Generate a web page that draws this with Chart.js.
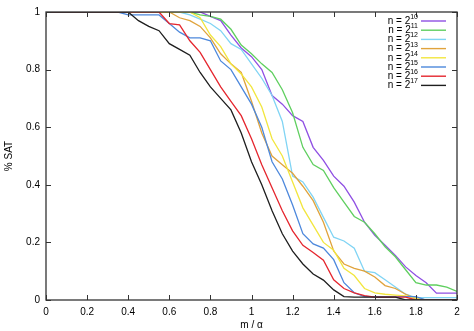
<!DOCTYPE html>
<html>
<head>
<meta charset="utf-8">
<script src="https://cdn.jsdelivr.net/npm/chart.js@4"></script>
<style>
  html, body { margin: 0; padding: 0; background: #fff; }
  #wrap { width: 474px; height: 331px; }
</style>
</head>
<body>
<div id="wrap"><canvas id="sat"></canvas></div>
<script>
// m / alpha sample points
const ratios = [0, 0.05, 0.1, 0.15, 0.2, 0.25, 0.3, 0.35, 0.4, 0.45,
  0.5, 0.55, 0.6, 0.65, 0.7, 0.75, 0.8, 0.85, 0.9, 0.95,
  1, 1.05, 1.1, 1.15, 1.2, 1.25, 1.3, 1.35, 1.4, 1.45,
  1.5, 1.55, 1.6, 1.65, 1.7, 1.75, 1.8, 1.85, 1.9, 1.95, 2];

// fraction satisfiable for each problem size n = 2^k
const sat10 = [1, 1, 1, 1, 1, 1, 1, 1, 1, 1, 1, 1, 1, 1, 1, 1,
  0.985, 0.97, 0.92, 0.875, 0.845, 0.80, 0.71, 0.68, 0.64, 0.62, 0.53, 0.485, 0.43, 0.395,
  0.34, 0.27, 0.225, 0.19, 0.155, 0.115, 0.085, 0.06, 0.024, 0.024, 0.024];
const sat11 = [1, 1, 1, 1, 1, 1, 1, 1, 1, 1, 1, 1, 1, 1, 1,
  0.99, 0.985, 0.975, 0.94, 0.885, 0.855, 0.82, 0.79, 0.73, 0.65, 0.53, 0.47, 0.45, 0.39, 0.34,
  0.29, 0.27, 0.23, 0.185, 0.15, 0.105, 0.06, 0.052, 0.052, 0.045, 0.03];
const sat12 = [1, 1, 1, 1, 1, 1, 1, 1, 1, 1, 1, 1, 1, 1,
  0.99, 0.975, 0.96, 0.935, 0.89, 0.87, 0.82, 0.77, 0.71, 0.62, 0.43, 0.41, 0.357, 0.287, 0.218, 0.205,
  0.18, 0.10, 0.095, 0.07, 0.045, 0.02, 0.008, 0.008, 0.008, 0.008, 0.008];
const sat13 = [1, 1, 1, 1, 1, 1, 1, 1, 1, 1, 1, 1, 1,
  0.98, 0.97, 0.95, 0.91, 0.855, 0.82, 0.79, 0.69, 0.58, 0.50, 0.47, 0.44, 0.395, 0.345, 0.27, 0.17, 0.125,
  0.11, 0.10, 0.08, 0.05, 0.04, 0.02, 0.005, 0, 0, 0, 0];
const sat14 = [1, 1, 1, 1, 1, 1, 1, 1, 1, 1, 1, 1, 1, 1, 1,
  0.98, 0.92, 0.88, 0.82, 0.785, 0.74, 0.67, 0.56, 0.50, 0.41, 0.32, 0.26, 0.20, 0.173, 0.11,
  0.085, 0.04, 0.025, 0.02, 0.017, 0.014, 0.005, 0, 0, 0, 0];
const sat15 = [1, 1, 1, 1, 1, 1, 1, 1, 0.99, 0.99, 0.99, 0.99,
  0.96, 0.93, 0.91, 0.91, 0.90, 0.83, 0.80, 0.74, 0.68, 0.60, 0.48, 0.42, 0.33, 0.23, 0.195, 0.18, 0.14, 0.06,
  0.025, 0.012, 0.012, 0.012, 0.012, 0.012, 0.012, 0, 0, 0, 0];
const sat16 = [1, 1, 1, 1, 1, 1, 1, 1, 1, 1, 1, 1,
  0.96, 0.955, 0.90, 0.86, 0.80, 0.74, 0.69, 0.64, 0.56, 0.47, 0.39, 0.31, 0.24, 0.19, 0.165, 0.138, 0.07, 0.04,
  0.025, 0.015, 0.01, 0.01, 0.01, 0.01, 0, 0, 0, 0, 0];
const sat17 = [1, 1, 1, 1, 1, 1, 1, 1, 1,
  0.97, 0.95, 0.935, 0.89, 0.87, 0.85, 0.79, 0.74, 0.70, 0.66, 0.58, 0.48, 0.40, 0.31, 0.23, 0.17, 0.125, 0.09, 0.069, 0.035, 0.012,
  0.01, 0.01, 0.01, 0.01, 0.01, 0, 0, 0, 0, 0, 0];

const exponents = ['10', '11', '12', '13', '14', '15', '16', '17'];
const seriesValues = [sat10, sat11, sat12, sat13, sat14, sat15, sat16, sat17];
const colors = ['#8f4fe3', '#5fcf5f', '#80d4f4', '#e0a33c', '#f2e63e', '#4d88dc', '#e5262e', '#1e1e1e'];

const xTicks = [0, 0.2, 0.4, 0.6, 0.8, 1, 1.2, 1.4, 1.6, 1.8, 2];
const yTicks = [0, 0.2, 0.4, 0.6, 0.8, 1];

const fontFamily = '"Liberation Sans", Arial, sans-serif';

// box around the plot with inward ticks on all four sides, plus the key
const frame = {
  id: 'frame',
  afterDatasetsDraw(chart) {
    const { ctx, chartArea: a, scales } = chart;
    const line = (x1, y1, x2, y2) => {
      ctx.beginPath(); ctx.moveTo(x1, y1); ctx.lineTo(x2, y2); ctx.stroke();
    };
    ctx.save();
    ctx.strokeStyle = '#333';
    ctx.lineWidth = 1;
    xTicks.forEach(v => {
      const px = Math.round(scales.x.getPixelForValue(v)) + 0.5;
      line(px, a.bottom, px, a.bottom - 5);
      line(px, a.top, px, a.top + 5);
    });
    yTicks.forEach(v => {
      const py = Math.round(scales.y.getPixelForValue(v)) + 0.5;
      line(a.left, py, a.left + 5, py);
      line(a.right, py, a.right - 5, py);
    });
    ctx.lineWidth = 1.3;
    ctx.strokeRect(a.left, a.top, a.right - a.left, a.bottom - a.top);

    // key: "n = 2" with a raised exponent, then a line sample
    const textRight = a.right - 39;
    ctx.textBaseline = 'middle';
    ctx.textAlign = 'right';
    exponents.forEach((e, i) => {
      const y = a.top + 9 + i * 9.2;
      ctx.fillStyle = '#000';
      ctx.font = '7px ' + fontFamily;
      const ew = ctx.measureText(e).width;
      ctx.fillText(e, textRight, y - 4);
      ctx.font = '10px ' + fontFamily;
      ctx.fillText('n = 2', textRight - ew, y);
      ctx.strokeStyle = colors[i];
      ctx.lineWidth = 1.4;
      line(textRight + 3, y, textRight + 28, y);
    });
    ctx.restore();
  }
};

new Chart('sat', {
  type: 'line',
  data: {
    datasets: seriesValues.map((vals, i) => ({
      label: 'n = 2^' + exponents[i],
      data: ratios.map((r, j) => ({ x: r, y: vals[j] })),
      borderColor: colors[i],
      borderWidth: 1.3,
      pointRadius: 0,
      tension: 0,
      fill: false,
      order: seriesValues.length - 1 - i
    }))
  },
  options: {
    responsive: true,
    maintainAspectRatio: false,
    animation: false,
    layout: { padding: { top: 11, right: 17, left: 0, bottom: 0 } },
    plugins: { legend: { display: false }, tooltip: { enabled: false } },
    scales: {
      x: {
        type: 'linear',
        min: 0, max: 2,
        afterFit: s => { s.height = 31; },
        afterBuildTicks: s => { s.ticks = xTicks.map(v => ({ value: v })); },
        grid: { display: false, drawTicks: false },
        border: { display: false },
        ticks: {
          color: '#000', padding: 6,
          font: { family: fontFamily, size: 10 },
          callback: v => String(+v.toFixed(1))
        },
        title: {
          display: true, text: 'm / α', color: '#000',
          font: { family: fontFamily, size: 10 },
          padding: { top: 1, bottom: 0 }
        }
      },
      y: {
        min: 0, max: 1,
        afterFit: s => { s.width = 46; },
        afterBuildTicks: s => { s.ticks = yTicks.map(v => ({ value: v })); },
        grid: { display: false, drawTicks: false },
        border: { display: false },
        ticks: {
          color: '#000', padding: 6,
          font: { family: fontFamily, size: 10 },
          callback: v => String(+v.toFixed(1))
        },
        title: {
          display: true, text: '% SAT', color: '#000',
          font: { family: fontFamily, size: 10 },
          padding: { top: 3, bottom: 0 }
        }
      }
    }
  },
  plugins: [frame]
});
</script>
</body>
</html>
